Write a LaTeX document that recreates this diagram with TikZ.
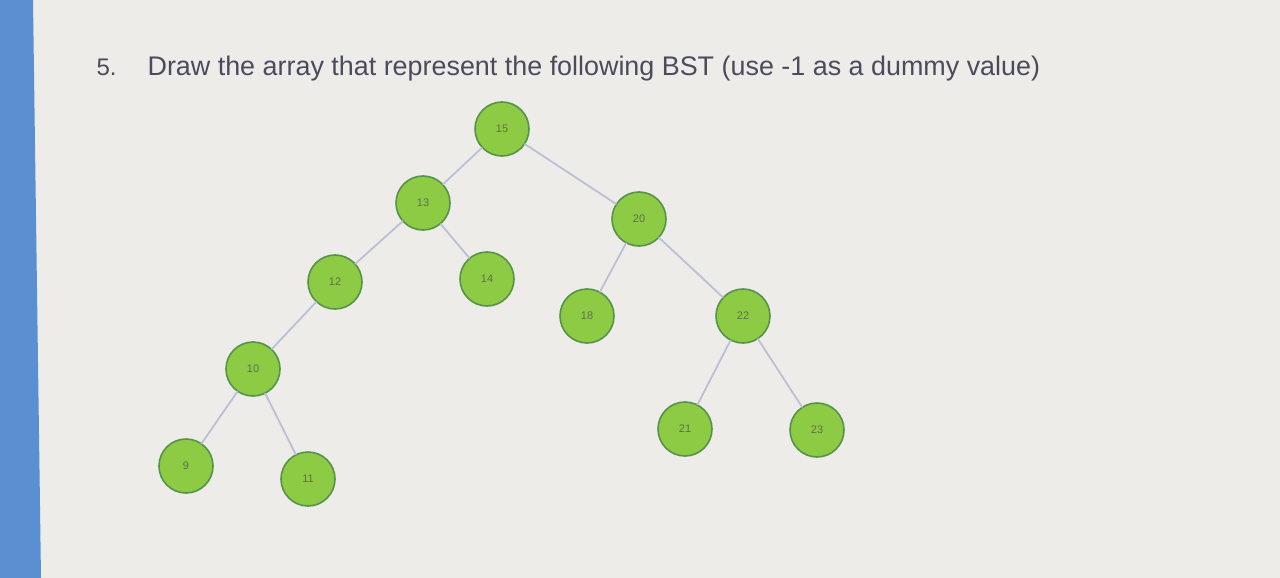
\documentclass[tikz,border=0pt]{standalone}
\usepackage{fontspec}
\setmainfont{Liberation Sans}
\usetikzlibrary{positioning}
\definecolor{paper}{HTML}{EEECE8}
\definecolor{screenblue}{HTML}{5A8FD2}
\definecolor{leaf}{HTML}{8DCB45}
\definecolor{leafrim}{HTML}{55924A}
\definecolor{leaftext}{HTML}{5E7046}
\definecolor{edgegray}{HTML}{BCBFD6}
\definecolor{inkgray}{HTML}{4B4B5C}
\begin{document}
\begin{tikzpicture}[x=1pt, y=-1pt, line width=1.2pt]
% Node styles
\tikzstyle{key}=[circle, inner sep=0pt, outer sep=0pt, draw=leafrim, fill=leaf, text=leaftext, minimum size=54pt, font=\fontsize{11}{12}\selectfont, line width=1.6pt]
\tikzstyle{link}=[draw=edgegray, line width=1.8pt]
% Background
\fill[paper] (0,0) rectangle (1280,578);
\useasboundingbox (0,0) rectangle (1280,578);
\fill[screenblue] (0,0) -- (33,0) -- (41,578) -- (0,578) -- cycle;
% Title
\node[anchor=base west, text=inkgray, font=\fontsize{24}{28}\selectfont, inner sep=0pt] (num) at (96,75) {5.};
\node[anchor=base west, text=inkgray, font=\fontsize{26.9}{30}\selectfont, inner sep=0pt] (title) at (147,75) {Draw the array that represent the following BST (use -1 as a dummy value)};
% Level 0 and 1
\node[key] (n15) at (502,129) {15};
\node[key] (n13) at (423,203) {13};
\node[key] (n20) at (639,219) {20};
% Level 2
\node[key] (n12) at (335,282) {12};
\node[key] (n14) at (487,279) {14};
\node[key] (n18) at (587,316) {18};
\node[key] (n22) at (743,316) {22};
% Level 3 and 4
\node[key] (n10) at (253,369) {10};
\node[key] (n21) at (685,429) {21};
\node[key] (n23) at (817,430) {23};
\node[key] (n9) at (186,466) {9};
\node[key] (n11) at (308,479) {11};
% Edges
\draw[link] (n15)--(n13);
\draw[link] (n15)--(n20);
\draw[link] (n13)--(n12);
\draw[link] (n13)--(n14);
\draw[link] (n12)--(n10);
\draw[link] (n10)--(n9);
\draw[link] (n10)--(n11);
\draw[link] (n20)--(n18);
\draw[link] (n20)--(n22);
\draw[link] (n22)--(n21);
\draw[link] (n22)--(n23);
\end{tikzpicture}
\end{document}
